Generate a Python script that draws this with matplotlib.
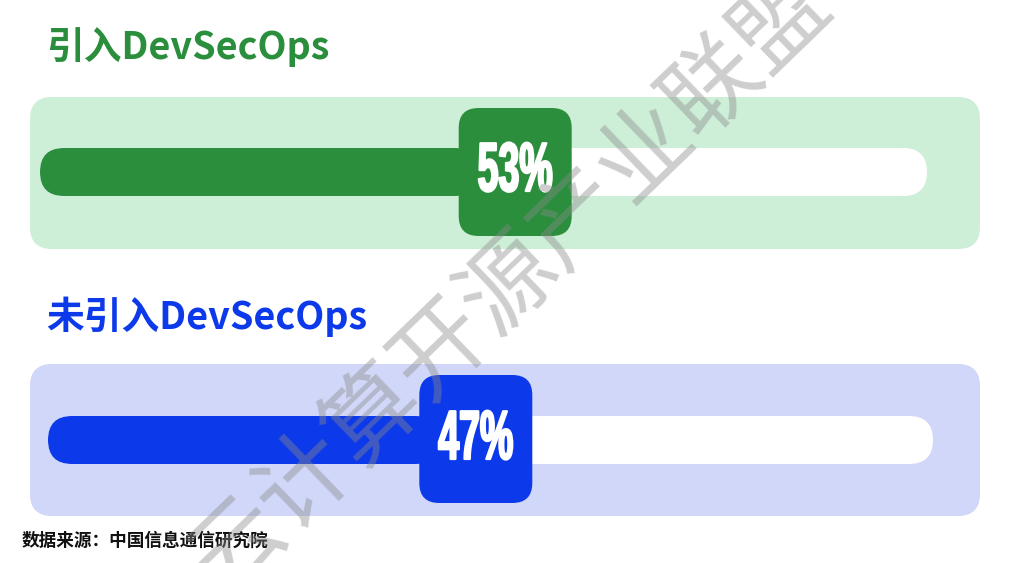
import matplotlib
matplotlib.use("Agg")
import matplotlib.pyplot as plt
from matplotlib.patches import FancyBboxPatch
from matplotlib.patheffects import AbstractPathEffect
from matplotlib.transforms import Affine2D

plt.rcParams['font.family'] = ['Noto Sans CJK SC', 'DejaVu Sans']

# ---- data ----
titles = ["引入DevSecOps", "未引入DevSecOps"]
values = [53, 47]
labels = ["53%", "47%"]
source_text = "数据来源：中国信息通信研究院"
watermark = "云计算开源产业联盟"

# ---- styles ----
dark_colors = ["#2a8e3d", "#0c39ea"]
light_colors = ["#cdeed7", "#d0d7f8"]


class HScale(AbstractPathEffect):
    """Squeeze glyphs horizontally about a display-x centre and embolden them."""
    def __init__(self, sx, cx, lw=1.6):
        super().__init__()
        self.sx = sx
        self.cx = cx
        self.lw = lw

    def draw_path(self, renderer, gc, tpath, affine, rgbFace=None):
        aff = affine + Affine2D().translate(-self.cx, 0).scale(self.sx, 1).translate(self.cx, 0)
        gc0 = renderer.new_gc()
        gc0.copy_properties(gc)
        gc0.set_linewidth(self.lw)
        gc0.set_foreground(rgbFace if rgbFace is not None else 'white')
        renderer.draw_path(gc0, tpath, aff, rgbFace)
        gc0.restore()


W, H = 1014, 563
fig = plt.figure(figsize=(W / 100, H / 100), dpi=100)
ax = fig.add_axes([0, 0, 1, 1])
ax.set_xlim(0, W)
ax.set_ylim(H, 0)
ax.axis('off')

panel_top = [97, 364]
panel_h = 152
title_y = [47, 317]
track_left = [40, 48]
track_right = [927, 933]
track_off = [51, 52]
box_w = 113
span = 790

for i in range(2):
    pt = panel_top[i]
    ax.text(46, title_y[i], titles[i], color=dark_colors[i], fontsize=27.2,
            fontweight='bold', va='center', ha='left')
    ax.add_patch(FancyBboxPatch((30, pt), 950, panel_h,
                                boxstyle="round,pad=0,rounding_size=22",
                                fc=light_colors[i], ec='none', zorder=1))
    ty = pt + track_off[i]
    th = 48
    tl, tr = track_left[i], track_right[i]
    ax.add_patch(FancyBboxPatch((tl, ty), tr - tl, th,
                                boxstyle="round,pad=0,rounding_size=24",
                                fc='white', ec='none', zorder=2))
    fill_end = tl + values[i] / 100 * span
    ax.add_patch(FancyBboxPatch((tl, ty), fill_end - tl + 20, th,
                                boxstyle="round,pad=0,rounding_size=24",
                                fc=dark_colors[i], ec='none', zorder=3))
    bt = pt + 11
    bh = 128
    ax.add_patch(FancyBboxPatch((fill_end, bt), box_w, bh,
                                boxstyle="round,pad=0,rounding_size=20",
                                fc=dark_colors[i], ec='none', zorder=4))
    cx = fill_end + box_w / 2
    cx_disp = ax.transData.transform((cx, 0))[0]
    ax.text(cx, ty + th / 2 + 1, labels[i], color='white',
            fontsize=50, fontweight='bold', family='Liberation Sans',
            ha='center', va='center', zorder=5,
            path_effects=[HScale(0.54, cx_disp)])

ax.text(22, 541, source_text, color='#111111', fontsize=12.7, fontweight='bold',
        ha='left', va='center')

ax.text(510, 283, watermark, color='#8a8a8a', alpha=0.42, fontsize=68,
        rotation=44, rotation_mode='anchor', ha='center', va='center', zorder=10)

fig.savefig("out.png", dpi=100)
